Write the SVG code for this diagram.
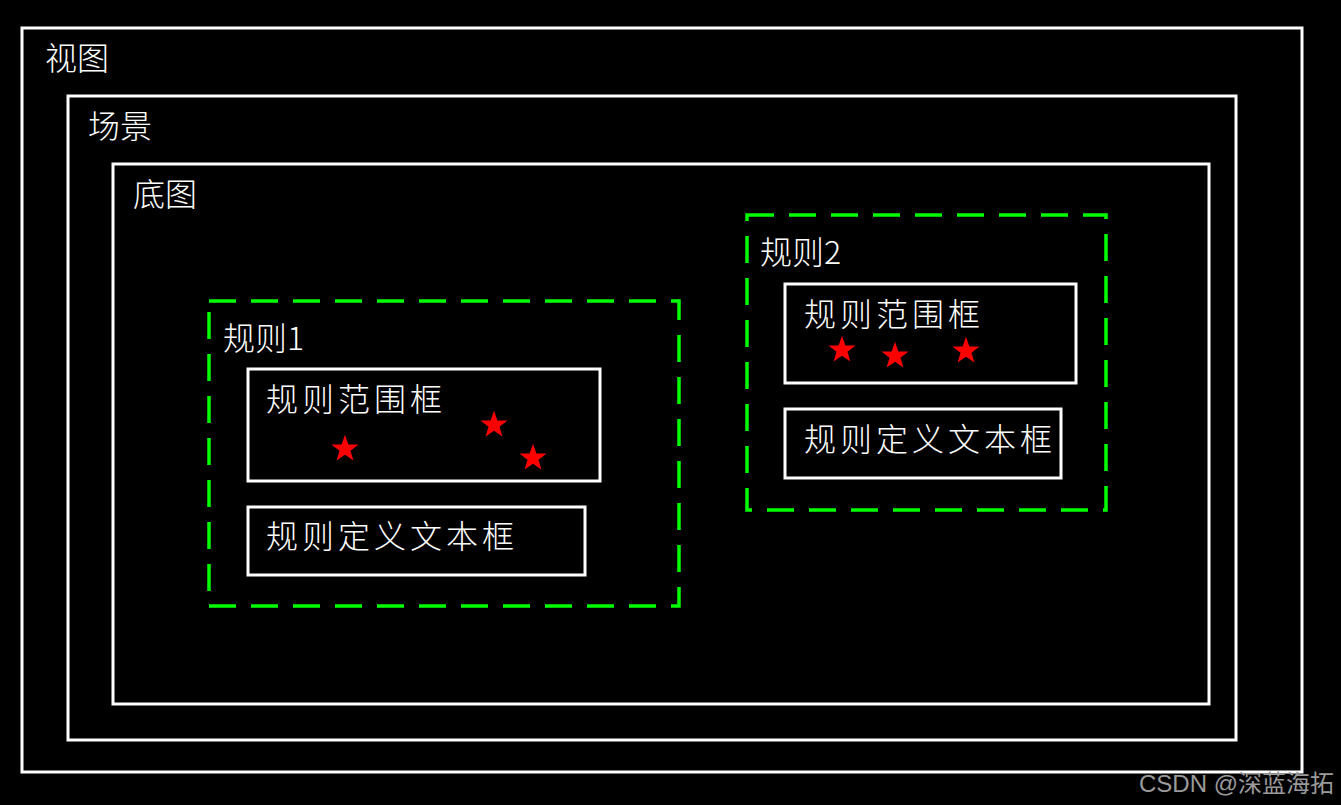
<svg xmlns="http://www.w3.org/2000/svg" width="1341" height="805" viewBox="0 0 1341 805">
<defs>
<style>
.frame{fill:none;stroke:#ffffff;stroke-width:3}
.rule{fill:none;stroke:#00ff00;stroke-width:3.5;stroke-dasharray:27 15}
.lbl{fill:#ffffff;font-family:"Noto Sans CJK SC","DejaVu Sans",sans-serif;font-size:32px;font-weight:300}
.sp{letter-spacing:4px}
.wm{fill:#9a9a9a;font-family:"Liberation Sans","Noto Sans CJK SC",sans-serif;font-size:24px}
.star{fill:#ff0000}
</style>
<polygon id="st" points="0,-14.3 3.4,-4.6 13.6,-4.4 5.5,1.8 8.4,11.6 0,5.7 -8.4,11.6 -5.5,1.8 -13.6,-4.4 -3.4,-4.6"/>
</defs>
<rect width="1341" height="805" fill="#000000"/>
<g id="view"><rect class="frame" x="22" y="28" width="1280" height="744"/><text class="lbl" x="45" y="70">视图</text></g>
<g id="scene"><rect class="frame" x="68" y="96" width="1168" height="644"/><text class="lbl" x="88" y="138">场景</text></g>
<g id="basemap"><rect class="frame" x="113" y="164" width="1096" height="540"/><text class="lbl" x="133" y="206">底图</text></g>
<g id="rule1"><rect class="rule" x="209" y="301" width="470" height="305"/><text class="lbl" x="223" y="350">规则1</text></g>
<g id="rule1-range"><rect class="frame" x="248" y="369" width="352" height="112"/><text class="lbl sp" x="266" y="411">规则范围框</text>
<use href="#st" class="star" x="345" y="449"/><use href="#st" class="star" x="494" y="425"/><use href="#st" class="star" x="533" y="458"/></g>
<g id="rule1-text"><rect class="frame" x="248" y="507" width="337" height="68"/><text class="lbl sp" x="266" y="548">规则定义文本框</text></g>
<g id="rule2"><rect class="rule" x="747" y="215" width="359" height="295"/><text class="lbl" x="760" y="264">规则2</text></g>
<g id="rule2-range"><rect class="frame" x="785" y="284" width="291" height="99"/><text class="lbl sp" x="804" y="326">规则范围框</text>
<use href="#st" class="star" x="842" y="350"/><use href="#st" class="star" x="895" y="356"/><use href="#st" class="star" x="966" y="351"/></g>
<g id="rule2-text"><rect class="frame" x="785" y="409" width="276" height="69"/><text class="lbl sp" x="804" y="451">规则定义文本框</text></g>
<g id="connectors"></g>
<text class="wm" x="1139" y="792">CSDN @深蓝海拓</text>
</svg>
